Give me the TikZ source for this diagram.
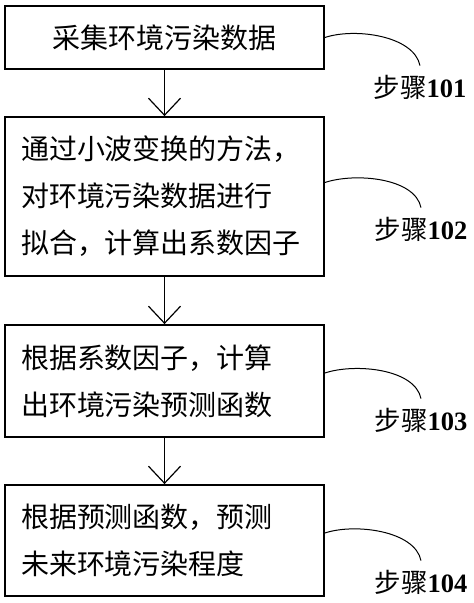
\documentclass[tikz,border=0pt]{standalone}
\usepackage{fontspec}
\setmainfont{Liberation Serif}
\newfontfamily\cjk{Noto Sans CJK SC}
\usetikzlibrary{arrows.meta}
\tikzset{
  stepbox/.style={draw, line width=1.8pt, minimum width=319pt, text width=287pt,
    inner xsep=16pt, align=left, font=\cjk\fontsize{28}{47}\selectfont},
  flow/.style={line width=1.3pt, -{Straight Barb[length=17pt,width=32pt,line width=1.2pt]}},
  lbl/.style={font=\fontsize{26.5}{28}\selectfont, inner ysep=9pt, inner xsep=0pt},
  lead/.style={line width=1pt}
}
\begin{document}
\begin{tikzpicture}[x=1pt,y=-1pt]
\fill[white] (0,0) rectangle (474,603);
\useasboundingbox (0,0) rectangle (474,603);
\node[stepbox, minimum height=63pt, align=center] (b1) at (164.5,37.5) {采集环境污染数据};
\node[stepbox, minimum height=159pt] (b2) at (164.5,196.5) {通过小波变换的方法，\\对环境污染数据进行\\拟合，计算出系数因子};
\node[stepbox, minimum height=112pt] (b3) at (164.5,381) {根据系数因子，计算\\出环境污染预测函数};
\node[stepbox, minimum height=111pt] (b4) at (164.5,540.5) {根据预测函数，预测\\未来环境污染程度};
\draw[flow] (b1) -- (b2);
\draw[flow] (b2) -- (b3);
\draw[flow] (b3) -- (b4);
\node[lbl] (l1) at (420,87) {{\cjk 步骤}\textbf{101}};
\node[lbl] (l2) at (421,229) {{\cjk 步骤}\textbf{102}};
\node[lbl] (l3) at (421,420) {{\cjk 步骤}\textbf{103}};
\node[lbl] (l4) at (421,582) {{\cjk 步骤}\textbf{104}};
\coordinate (s1) at ([yshift=0pt]b1.east);
\coordinate (s2) at ([yshift=14pt]b2.east);
\coordinate (s3) at ([yshift=8pt]b3.east);
\coordinate (s4) at ([yshift=7.5pt]b4.east);
\draw[lead] (s1) .. controls +(30,-10) and +(-6,-30) .. (l1.north);
\draw[lead] (s2) .. controls +(30,-10) and +(-6,-30) .. (l2.north);
\draw[lead] (s3) .. controls +(30,-10) and +(-6,-30) .. (l3.north);
\draw[lead] (s4) .. controls +(30,-10) and +(-6,-30) .. (l4.north);
\end{tikzpicture}
\end{document}
